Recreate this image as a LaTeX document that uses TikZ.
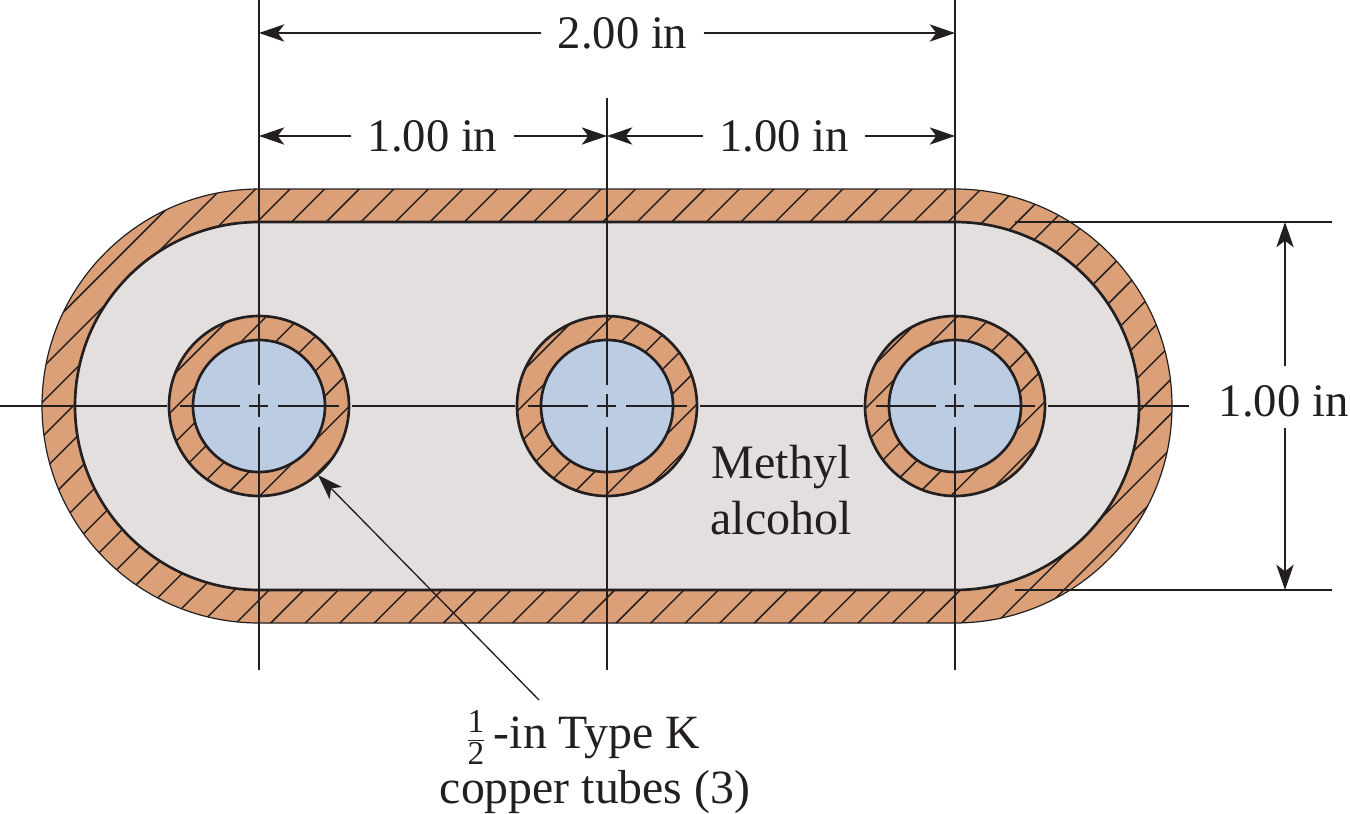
\documentclass[tikz,border=0pt]{standalone}
\usepackage{amsmath}
\usepackage{xcolor}
\usepackage{fontspec}
\setmainfont{Liberation Serif}
\usetikzlibrary{arrows.meta}

\definecolor{ink}{HTML}{231F20}
\definecolor{copper}{HTML}{DBA077}
\definecolor{alcohol}{HTML}{E2DFDE}
\definecolor{water}{HTML}{BCCDE3}

\tikzset{
  hatch/.style={draw=ink, line width=1.1pt},
  wall/.style={draw=ink, line width=2pt},
  thin line/.style={draw=ink, line width=1pt},
  dimhalf/.style={draw=ink, fill=ink, line width=1pt, ->},
  lbl/.style={text=ink, font=\fontsize{35}{41.5}\selectfont, inner sep=0pt, align=center},
}

\newcommand{\hatchlines}{%
  \foreach \k in {0,...,37}
    \draw[hatch] ({375.5+34.55*\k-180},180) -- ({375.5+34.55*\k-640},640);
}
\newcommand{\halfdigit}[2]{\text{\raisebox{#1}{\fontsize{25}{25}\selectfont #2}}}

\begin{document}
\begin{tikzpicture}[x=0.75pt,y=-0.75pt,>={Stealth[length=19pt,width=13pt,inset=5pt]}]

\useasboundingbox (0,0) rectangle (1350,814);

% outer shell
\fill[copper] (259,189) -- (955,189) arc[start angle=-90,end angle=90,radius=217]
  -- (259,623) arc[start angle=90,end angle=270,radius=217] -- cycle;
\begin{scope}
  \clip (259,189) -- (955,189) arc[start angle=-90,end angle=90,radius=217]
    -- (259,623) arc[start angle=90,end angle=270,radius=217] -- cycle;
  \hatchlines
\end{scope}
\draw[draw=ink, line width=0.9pt] (259,189) -- (955,189) arc[start angle=-90,end angle=90,radius=217]
  -- (259,623) arc[start angle=90,end angle=270,radius=217] -- cycle;
\filldraw[fill=alcohol, wall] (259,222) -- (955,222) arc[start angle=-90,end angle=90,radius=184]
  -- (259,590) arc[start angle=90,end angle=270,radius=184] -- cycle;

% tubes
\foreach \cx in {259,607,955} {
  \fill[copper] (\cx,406) circle[radius=90];
  \begin{scope}
    \clip (\cx,406) circle[radius=90];
    \hatchlines
  \end{scope}
  \draw[wall] (\cx,406) circle[radius=90];
  \filldraw[fill=water, wall] (\cx,406) circle[radius=66];
  % centre marks
  \draw[thin line] ({\cx-79},406) -- ({\cx-19},406);
  \draw[thin line] ({\cx-10},406) -- ({\cx+9},406);
  \draw[thin line] ({\cx+19},406) -- ({\cx+80},406);
  \draw[thin line] (\cx,385) -- (\cx,\ifnum\cx=607 98\else 0\fi);
  \draw[thin line] (\cx,394) -- (\cx,417);
  \draw[thin line] (\cx,427) -- (\cx,670);
}

% centre line
\draw[thin line] (0,406) -- (167,406);
\draw[thin line] (352,406) -- (515,406);
\draw[thin line] (700,406) -- (863,406);
\draw[thin line] (1048,406) -- (1189,406);

% extension lines
\draw[thin line] (1015,222) -- (1332,222);
\draw[thin line] (1015,590) -- (1332,590);

% dimensions
\coordinate (a) at (259,33);
\coordinate (b) at (955,33);
\coordinate (c) at (259,136);
\coordinate (d) at (607,136);
\coordinate (e) at (955,136);
\coordinate (f) at (1285,222);
\coordinate (g) at (1285,590);
\coordinate (fs) at (1285,366);
\coordinate (gs) at (1285,428);

\node[lbl, inner xsep=12pt] (total) at (622.5,33) {2.00 in};
\node[lbl, inner xsep=12pt] (left) at (432.5,136) {1.00 in};
\node[lbl, inner xsep=12pt] (right) at (784,136) {1.00 in};
\node[lbl] (height) at (1283.5,401) {1.00 in};

\draw[dimhalf] (total) -- (a);
\draw[dimhalf] (total) -- (b);
\draw[dimhalf] (left) -- (c);
\draw[dimhalf] (left) -- (d);
\draw[dimhalf] (right) -- (d);
\draw[dimhalf] (right) -- (e);
\draw[dimhalf] (fs) -- (f);
\draw[dimhalf] (gs) -- (g);

% labels
\node[lbl, font=\fontsize{36}{41.5}\selectfont] (fluid) at (781,490) {Methyl\\alcohol};
\node[lbl, font=\fontsize{35.8}{41.5}\selectfont] (tubes) at (595,762)
  {$\frac{\halfdigit{2.5pt}{1}}{\halfdigit{-2.5pt}{2}}$\,-in Type K\kern18pt\\copper tubes (3)};

\coordinate (leader) at (539,700);
\coordinate (tube) at (318,475);
\draw[dimhalf] (leader) -- (tube);

\end{tikzpicture}
\end{document}
